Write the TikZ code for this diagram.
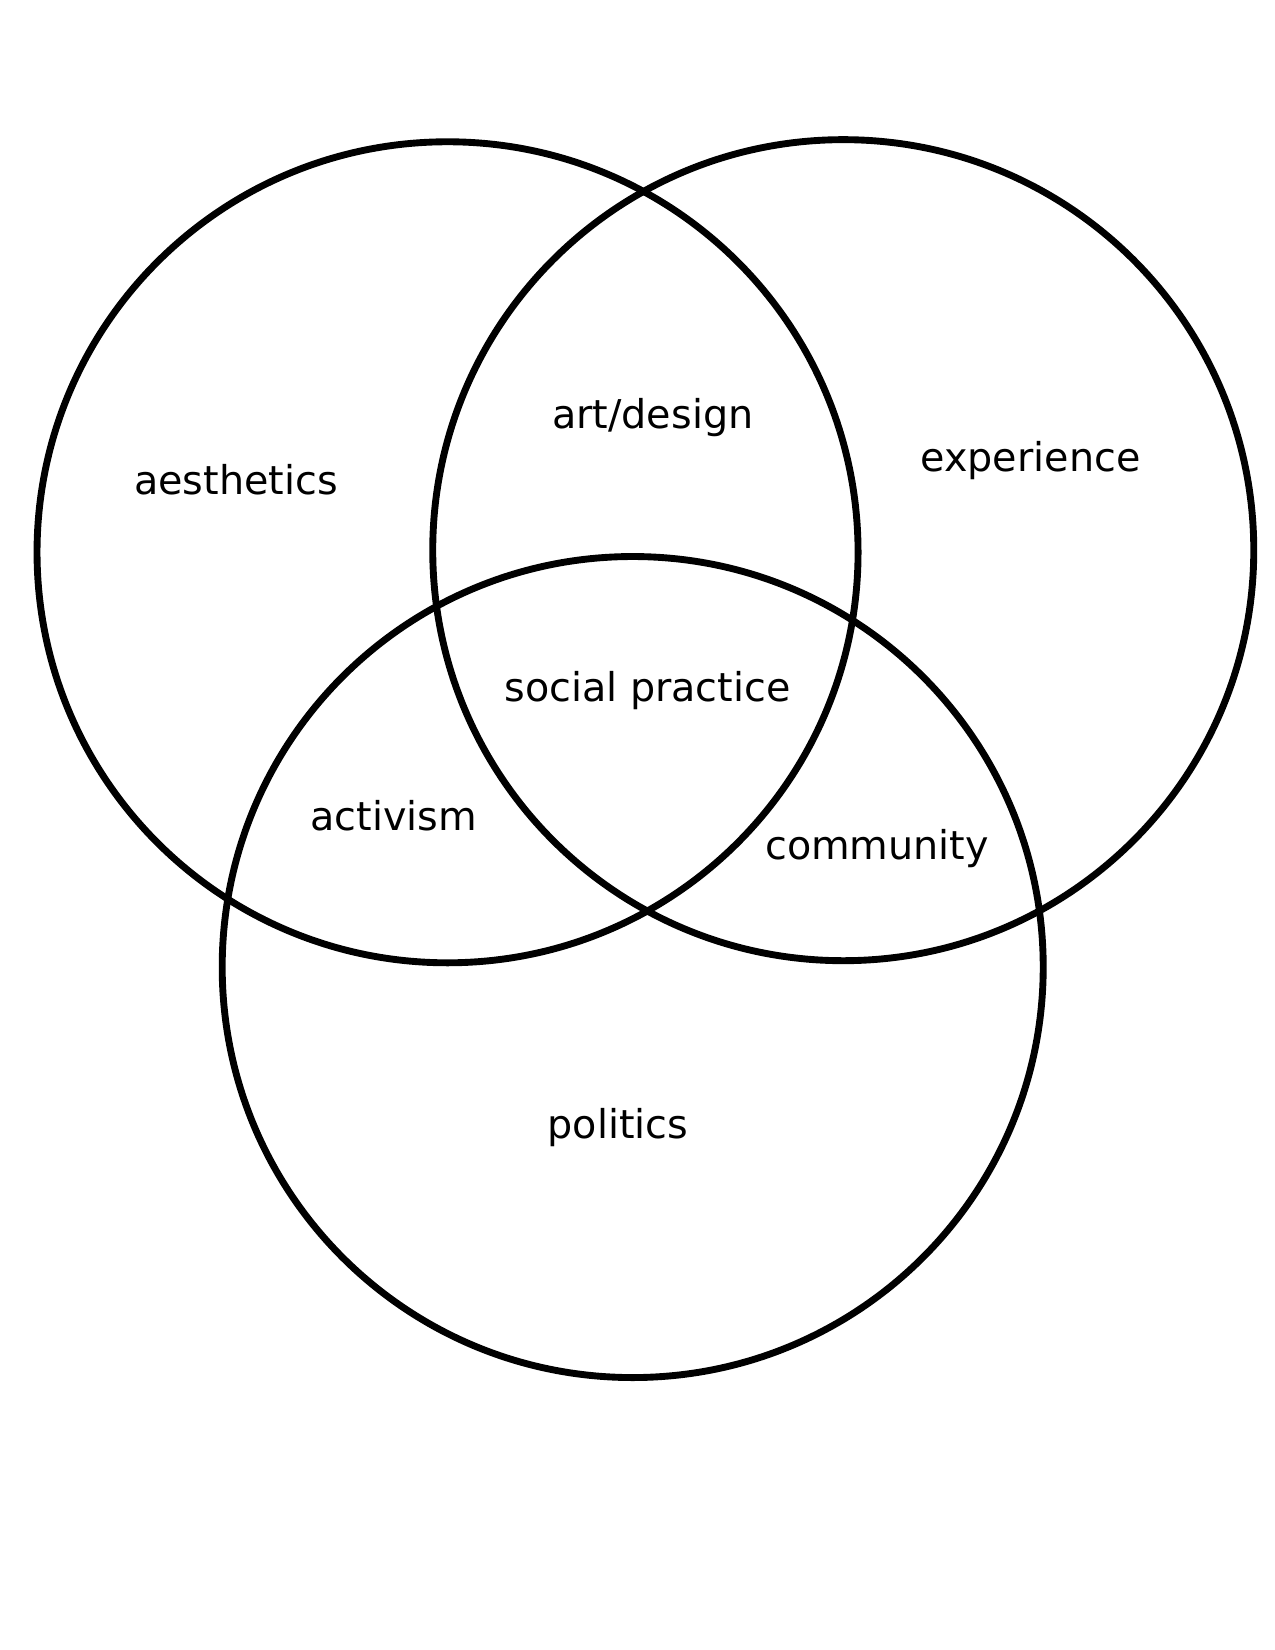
\documentclass[tikz,border=0pt]{standalone}
\usepackage{fontspec}
\setmainfont{DejaVu Sans}
\begin{document}
\begin{tikzpicture}[x=1pt,y=-1pt,
  ring/.style={draw=black,line width=6.5pt},
  lbl/.style={font=\fontsize{37.5}{45}\selectfont,inner sep=0pt,anchor=base}]
\useasboundingbox (0,0) rectangle (1205,1559.5);
\draw[ring] (423,522) circle (388);
\draw[ring] (797,520) circle (388);
\draw[ring] (598,914) circle (388);
\node[lbl] (aes) at (223,467) {aesthetics};
\node[lbl] (art) at (617,405) {art/design};
\node[lbl] (exp) at (974,446) {experience};
\node[lbl] (soc) at (612,663) {social practice};
\node[lbl] (act) at (372,785) {activism};
\node[lbl] (com) at (829,812) {community};
\node[lbl] (pol) at (584,1076) {politics};
\end{tikzpicture}
\end{document}
